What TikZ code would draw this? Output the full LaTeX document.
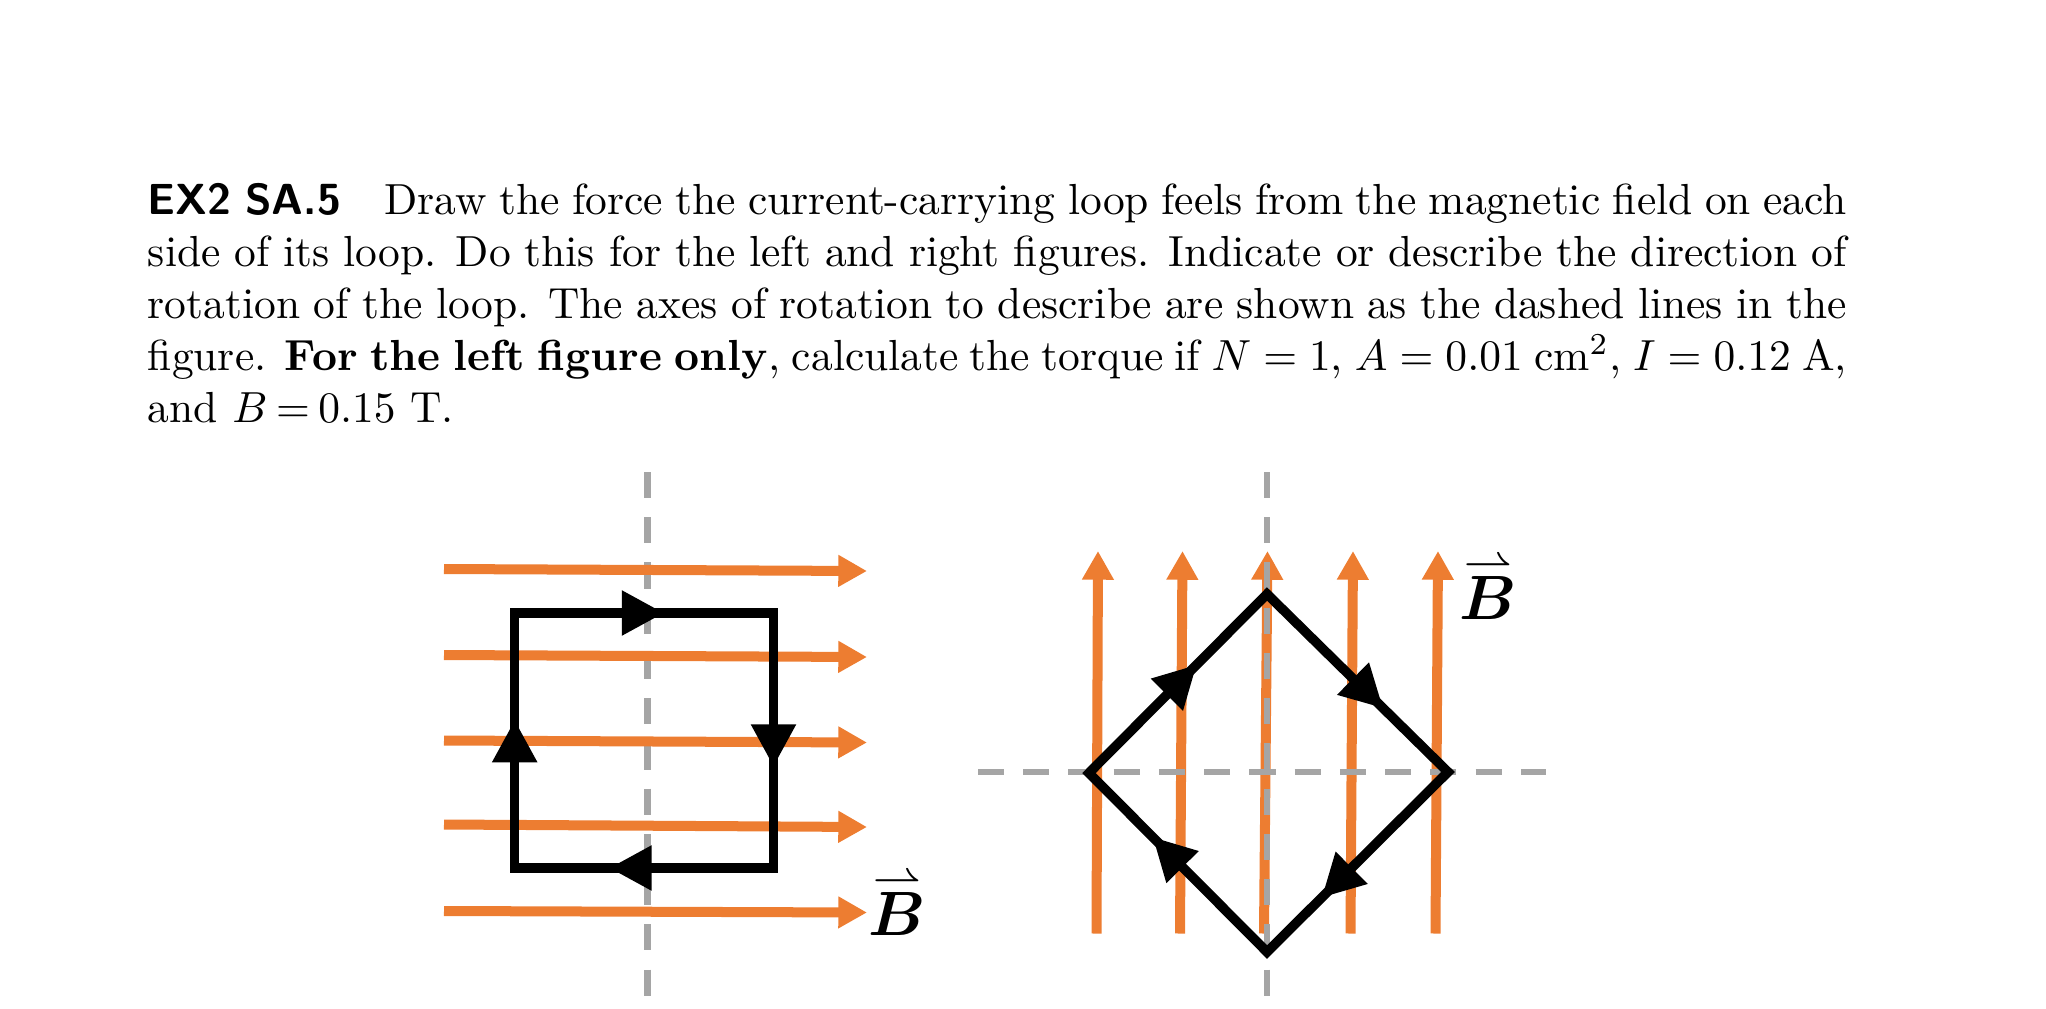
\documentclass[tikz,border=0pt]{standalone}
\usepackage{amsmath}
\usepackage{bm}
\usetikzlibrary{arrows.meta,decorations.markings}
\definecolor{fieldorange}{HTML}{ED7D31}
\definecolor{axisgray}{HTML}{A5A5A5}
\newcommand{\fieldB}{\ooalign{\hfil\raisebox{9.7pt}[0pt][0pt]{\scalebox{1.2}{$\scriptstyle\rightharpoonup$}}\hfil\cr\hfil$\bm{B}$\hfil\cr}}
\tikzset{
  fieldline/.style={draw=fieldorange,line width=2.3pt,-{Triangle[length=6.6pt,width=6.9pt]}},
  axisline/.style={draw=axisgray,line width=1.6pt,dash pattern=on 6pt off 4.4pt},
  loopwire/.style={draw=black,line width=2.2pt,line join=miter},
  loopflow/.style={postaction={decorate,decoration={markings,
    mark=at position #1 with {\arrow{Triangle[length=9.6pt,width=10.4pt]}}}}},
  fieldlabel/.style={anchor=base,inner sep=0pt,font=\fontsize{13.5}{14}\selectfont}
}
\begin{document}
\begin{tikzpicture}[x=0.2299pt,y=-0.2299pt]
    \useasboundingbox (0,0) rectangle (2046,1008);
    \node[anchor=north west,inner sep=0pt,text width=390.6pt,align=justify] (question) at (147,182) {%
      {\sffamily\bfseries EX2 SA.5}\quad Draw the force the current-carrying loop feels from the magnetic field on each side of its loop. Do this for the left and right figures. Indicate or describe the direction of rotation of the loop. The axes of rotation to describe are shown as the dashed lines in the figure. \textbf{For the left figure only}, calculate the torque if $N=1$, $A=0.01$ cm$^2$, $I=0.12$ A,\linebreak and $\thickmuskip=3.5mu B=0.15$ T.};
    % left figure
    \coordinate (axisTop) at (647.6,472);
    \coordinate (axisBot) at (647.6,1000);
    \draw[axisline] (axisTop) -- (axisBot);
    \foreach \n/\ya/\yb in {1/569/571,2/655/657,3/740.5/742.5,4/824.5/827,5/911/912.5}{
      \coordinate (fieldS\n) at (444,\ya);
      \coordinate (fieldE\n) at (867,\yb);
      \draw[fieldline] (fieldS\n) -- (fieldE\n);
    }
    \coordinate (sqA) at (514.7,613);
    \coordinate (sqB) at (773.5,613);
    \coordinate (sqC) at (773.5,868);
    \coordinate (sqD) at (514.7,868);
    \draw[loopwire] (sqA) -- (sqB) -- (sqC) -- (sqD) -- cycle;
    \path[loopflow=.575] (sqA) -- (sqB);
    \path[loopflow=.6] (sqB) -- (sqC);
    \path[loopflow=.632] (sqC) -- (sqD);
    \path[loopflow=.578] (sqD) -- (sqA);
    \node[fieldlabel] (leftB) at (897,935) {\fieldB};
    % right figure
    \foreach \n/\xa/\xb in {1/1096.5/1098,2/1180/1182.5,3/1264/1267.5,4/1350.5/1353,5/1435.5/1438}{
      \coordinate (upS\n) at (\xa,933.5);
      \coordinate (upE\n) at (\xb,551);
      \draw[fieldline] (upS\n) -- (upE\n);
    }
    \coordinate (vertTop) at (1267,472);
    \coordinate (vertBot) at (1267,1000);
    \coordinate (horL) at (978,772);
    \coordinate (horR) at (1546,772);
    \draw[axisline] (vertTop) -- (vertBot);
    \draw[axisline] (horL) -- (horR);
    \coordinate (diaT) at (1267,594);
    \coordinate (diaR) at (1448,772);
    \coordinate (diaB) at (1267,952);
    \coordinate (diaL) at (1089,773);
    \draw[loopwire] (diaT) -- (diaR) -- (diaB) -- (diaL) -- cycle;
    \path[loopflow=.64] (diaT) -- (diaR);
    \path[loopflow=.696] (diaR) -- (diaB);
    \path[loopflow=.641] (diaB) -- (diaL);
    \path[loopflow=.604] (diaL) -- (diaT);
    \node[fieldlabel] (rightB) at (1488,619) {\fieldB};
\end{tikzpicture}
\end{document}
